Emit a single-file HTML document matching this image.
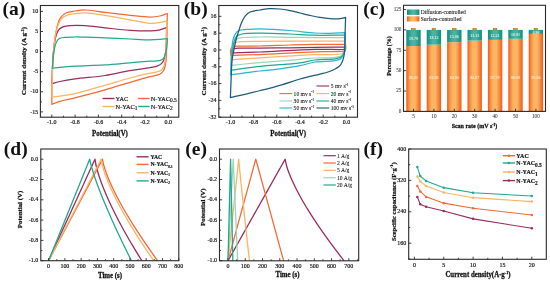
<!DOCTYPE html>
<html><head><meta charset="utf-8"><style>
html,body{margin:0;padding:0;background:#fff;}
svg{display:block;will-change:transform;font-family:"Liberation Serif",serif;}
</style></head><body>
<svg width="550" height="282" viewBox="0 0 550 282">

<defs>
<linearGradient id="gT" x1="0" x2="1" y1="0" y2="0">
 <stop offset="0" stop-color="#128f7f"/><stop offset="0.2" stop-color="#2b9f8f"/><stop offset="0.4" stop-color="#4cb2a1"/><stop offset="0.6" stop-color="#4cb2a1"/><stop offset="0.8" stop-color="#2b9f8f"/><stop offset="1" stop-color="#128c7c"/>
</linearGradient>
<linearGradient id="gO" x1="0" x2="1" y1="0" y2="0">
 <stop offset="0" stop-color="#f2581c"/><stop offset="0.18" stop-color="#f7923f"/><stop offset="0.36" stop-color="#fbb464"/><stop offset="0.6" stop-color="#fcb765"/><stop offset="0.8" stop-color="#f68a3c"/><stop offset="1" stop-color="#f1591d"/>
</linearGradient>
</defs>
<rect width="550" height="282" fill="#fff"/>
<text x="0" y="0" transform="translate(2.60,15.10) scale(1.0,1)" font-size="19.50" text-anchor="start" font-weight="bold" fill="#111" >(a)</text>
<path d="M52.00,83.60 C52.20,77.40 52.31,70.86 52.60,65.00 C52.86,59.73 53.12,54.55 53.60,50.00 C54.00,46.18 54.44,42.56 55.10,39.50 C55.63,37.05 56.17,34.86 57.00,33.00 C57.69,31.45 58.45,30.05 59.50,29.00 C60.48,28.02 61.57,27.35 63.00,26.80 C64.88,26.08 67.22,25.84 70.00,25.60 C74.05,25.26 79.65,25.31 85.00,25.60 C91.20,25.94 97.96,27.06 105.00,27.80 C112.87,28.63 122.12,29.79 130.00,30.30 C137.03,30.76 144.48,31.12 150.00,30.90 C153.91,30.74 157.05,30.43 160.00,29.80 C162.43,29.28 164.33,28.40 166.50,27.70 C166.47,31.80 166.55,35.93 166.40,40.00 C166.25,44.03 166.06,48.55 165.60,52.00 C165.25,54.66 164.95,56.99 164.20,59.00 C163.57,60.69 162.86,62.21 161.70,63.40 C160.49,64.63 159.01,65.44 157.00,66.20 C153.99,67.33 149.23,67.70 145.00,68.40 C140.29,69.18 135.62,69.64 130.00,70.60 C122.71,71.85 113.74,74.15 105.00,75.50 C95.48,76.97 83.27,77.72 75.00,78.90 C69.13,79.74 64.20,80.59 60.00,81.50 C56.90,82.17 54.67,82.90 52.00,83.60 Z" fill="none" stroke="#9a2c5e" stroke-width="1.25" stroke-linejoin="round"/>
<path d="M51.80,104.30 C51.90,96.20 51.92,87.70 52.10,80.00 C52.27,73.01 52.42,65.95 52.80,60.00 C53.11,55.20 53.54,51.24 54.00,47.00 C54.44,42.92 54.86,38.85 55.50,35.00 C56.11,31.37 56.73,27.58 57.70,24.50 C58.50,21.94 59.17,19.64 60.60,17.70 C62.05,15.73 64.11,13.92 66.40,12.80 C68.86,11.60 72.01,11.46 75.00,11.00 C78.20,10.51 81.10,9.96 85.00,10.00 C90.53,10.05 97.96,11.57 105.00,12.40 C112.87,13.33 122.13,14.49 130.00,15.30 C137.03,16.02 144.48,17.15 150.00,17.10 C153.91,17.06 156.96,16.68 160.00,16.00 C162.66,15.41 164.87,14.33 167.30,13.50 C167.20,19.00 167.13,23.93 167.00,30.00 C166.84,37.47 166.80,48.55 166.40,55.00 C166.15,59.09 165.99,62.19 165.40,65.00 C164.95,67.13 164.53,68.96 163.60,70.50 C162.75,71.91 161.81,73.07 160.20,74.00 C157.83,75.37 153.38,75.70 150.00,76.60 C146.64,77.50 143.33,78.45 140.00,79.40 C136.66,80.35 134.08,81.09 130.00,82.30 C123.54,84.22 113.74,87.42 105.00,89.90 C95.48,92.60 83.29,95.71 75.00,97.80 C69.15,99.27 64.22,100.15 60.00,101.40 C56.83,102.34 54.53,103.33 51.80,104.30 Z" fill="none" stroke="#f26a35" stroke-width="1.25" stroke-linejoin="round"/>
<path d="M52.00,97.20 C52.13,89.80 52.17,82.21 52.40,75.00 C52.62,68.16 52.89,61.18 53.30,55.00 C53.65,49.64 54.03,44.35 54.60,40.00 C55.05,36.61 55.50,33.79 56.20,31.00 C56.83,28.50 57.45,26.20 58.50,24.00 C59.55,21.80 60.83,19.36 62.50,17.80 C64.04,16.37 65.99,15.48 68.00,14.80 C70.14,14.07 72.45,14.01 75.00,13.70 C78.03,13.33 81.10,12.73 85.00,12.80 C90.53,12.90 97.98,14.22 105.00,15.30 C112.89,16.52 122.13,18.51 130.00,19.90 C137.03,21.14 144.46,23.05 150.00,23.30 C153.89,23.47 156.98,22.96 160.00,22.50 C162.56,22.11 164.67,21.43 167.00,20.90 C166.77,27.27 166.58,33.82 166.30,40.00 C166.04,45.83 165.84,52.40 165.40,57.00 C165.10,60.17 165.00,62.76 164.30,65.00 C163.74,66.77 163.10,68.39 162.00,69.50 C160.96,70.55 159.77,70.97 158.00,71.60 C154.96,72.68 149.48,73.19 145.00,74.20 C140.17,75.30 135.62,76.47 130.00,78.00 C122.71,79.99 113.34,82.91 105.00,85.30 C96.67,87.68 87.30,90.53 80.00,92.30 C74.39,93.66 69.83,94.57 65.00,95.40 C60.52,96.17 56.33,96.60 52.00,97.20 Z" fill="none" stroke="#f9b465" stroke-width="1.25" stroke-linejoin="round"/>
<path d="M52.40,68.10 C52.60,65.40 52.69,62.96 53.00,60.00 C53.37,56.39 53.87,51.29 54.60,48.00 C55.13,45.63 55.64,43.63 56.50,42.00 C57.19,40.69 57.84,39.56 59.00,38.80 C60.37,37.90 62.35,37.71 64.50,37.40 C67.42,36.98 71.54,37.03 75.00,37.00 C78.37,36.97 81.10,37.10 85.00,37.20 C90.52,37.34 97.96,37.53 105.00,37.80 C112.87,38.11 122.13,38.65 130.00,39.00 C137.04,39.31 144.48,39.80 150.00,39.80 C153.91,39.80 156.91,39.61 160.00,39.40 C162.68,39.22 165.00,38.93 167.50,38.70 C167.20,41.80 167.04,45.19 166.60,48.00 C166.23,50.37 165.83,52.61 165.20,54.50 C164.68,56.06 164.28,57.58 163.30,58.60 C162.34,59.60 161.04,60.15 159.40,60.60 C157.00,61.26 153.72,60.93 150.00,61.20 C144.58,61.59 137.04,62.22 130.00,62.80 C122.13,63.45 113.72,64.35 105.00,64.90 C95.46,65.51 83.28,65.72 75.00,66.20 C69.14,66.54 64.16,66.93 60.00,67.30 C57.04,67.56 54.93,67.83 52.40,68.10 Z" fill="none" stroke="#20a98f" stroke-width="1.25" stroke-linejoin="round"/>
<rect x="40.40" y="5.50" width="138.40" height="111.70" fill="none" stroke="#2a2a2a" stroke-width="1.1"/>
<line x1="51.80" y1="117.20" x2="51.80" y2="114.60" stroke="#2a2a2a" stroke-width="0.9"/><text x="0" y="0" transform="translate(51.80,124.30) scale(0.93,1)" font-size="6.45" text-anchor="middle" font-weight="normal" fill="#111" stroke="#111" stroke-width="0.18" >-1.0</text><line x1="75.10" y1="117.20" x2="75.10" y2="114.60" stroke="#2a2a2a" stroke-width="0.9"/><text x="0" y="0" transform="translate(75.10,124.30) scale(0.93,1)" font-size="6.45" text-anchor="middle" font-weight="normal" fill="#111" stroke="#111" stroke-width="0.18" >-0.8</text><line x1="98.40" y1="117.20" x2="98.40" y2="114.60" stroke="#2a2a2a" stroke-width="0.9"/><text x="0" y="0" transform="translate(98.40,124.30) scale(0.93,1)" font-size="6.45" text-anchor="middle" font-weight="normal" fill="#111" stroke="#111" stroke-width="0.18" >-0.6</text><line x1="121.70" y1="117.20" x2="121.70" y2="114.60" stroke="#2a2a2a" stroke-width="0.9"/><text x="0" y="0" transform="translate(121.70,124.30) scale(0.93,1)" font-size="6.45" text-anchor="middle" font-weight="normal" fill="#111" stroke="#111" stroke-width="0.18" >-0.4</text><line x1="145.00" y1="117.20" x2="145.00" y2="114.60" stroke="#2a2a2a" stroke-width="0.9"/><text x="0" y="0" transform="translate(145.00,124.30) scale(0.93,1)" font-size="6.45" text-anchor="middle" font-weight="normal" fill="#111" stroke="#111" stroke-width="0.18" >-0.2</text><line x1="168.30" y1="117.20" x2="168.30" y2="114.60" stroke="#2a2a2a" stroke-width="0.9"/><text x="0" y="0" transform="translate(168.30,124.30) scale(0.93,1)" font-size="6.45" text-anchor="middle" font-weight="normal" fill="#111" stroke="#111" stroke-width="0.18" >0.0</text><line x1="63.45" y1="117.20" x2="63.45" y2="115.70" stroke="#2a2a2a" stroke-width="0.9"/><line x1="86.75" y1="117.20" x2="86.75" y2="115.70" stroke="#2a2a2a" stroke-width="0.9"/><line x1="110.05" y1="117.20" x2="110.05" y2="115.70" stroke="#2a2a2a" stroke-width="0.9"/><line x1="133.35" y1="117.20" x2="133.35" y2="115.70" stroke="#2a2a2a" stroke-width="0.9"/><line x1="156.65" y1="117.20" x2="156.65" y2="115.70" stroke="#2a2a2a" stroke-width="0.9"/>
<line x1="40.40" y1="11.40" x2="43.00" y2="11.40" stroke="#2a2a2a" stroke-width="0.9"/><text x="0" y="0" transform="translate(38.30,13.02) scale(0.93,1)" font-size="6.45" text-anchor="end" font-weight="normal" fill="#111" stroke="#111" stroke-width="0.18" >10</text><line x1="40.40" y1="31.50" x2="43.00" y2="31.50" stroke="#2a2a2a" stroke-width="0.9"/><text x="0" y="0" transform="translate(38.30,33.12) scale(0.93,1)" font-size="6.45" text-anchor="end" font-weight="normal" fill="#111" stroke="#111" stroke-width="0.18" >5</text><line x1="40.40" y1="51.60" x2="43.00" y2="51.60" stroke="#2a2a2a" stroke-width="0.9"/><text x="0" y="0" transform="translate(38.30,53.22) scale(0.93,1)" font-size="6.45" text-anchor="end" font-weight="normal" fill="#111" stroke="#111" stroke-width="0.18" >0</text><line x1="40.40" y1="71.70" x2="43.00" y2="71.70" stroke="#2a2a2a" stroke-width="0.9"/><text x="0" y="0" transform="translate(38.30,73.32) scale(0.93,1)" font-size="6.45" text-anchor="end" font-weight="normal" fill="#111" stroke="#111" stroke-width="0.18" >-5</text><line x1="40.40" y1="91.80" x2="43.00" y2="91.80" stroke="#2a2a2a" stroke-width="0.9"/><text x="0" y="0" transform="translate(38.30,93.42) scale(0.93,1)" font-size="6.45" text-anchor="end" font-weight="normal" fill="#111" stroke="#111" stroke-width="0.18" >-10</text><line x1="40.40" y1="111.90" x2="43.00" y2="111.90" stroke="#2a2a2a" stroke-width="0.9"/><text x="0" y="0" transform="translate(38.30,113.52) scale(0.93,1)" font-size="6.45" text-anchor="end" font-weight="normal" fill="#111" stroke="#111" stroke-width="0.18" >-15</text><line x1="40.40" y1="21.45" x2="41.90" y2="21.45" stroke="#2a2a2a" stroke-width="0.9"/><line x1="40.40" y1="41.55" x2="41.90" y2="41.55" stroke="#2a2a2a" stroke-width="0.9"/><line x1="40.40" y1="61.65" x2="41.90" y2="61.65" stroke="#2a2a2a" stroke-width="0.9"/><line x1="40.40" y1="81.75" x2="41.90" y2="81.75" stroke="#2a2a2a" stroke-width="0.9"/><line x1="40.40" y1="101.85" x2="41.90" y2="101.85" stroke="#2a2a2a" stroke-width="0.9"/>
<text x="0" y="0" transform="translate(110.00,135.80) scale(0.93,1)" font-size="7.37" text-anchor="middle" font-weight="bold" fill="#111" stroke="#111" stroke-width="0.26" >Potential(V)</text>
<text x="0" y="0" font-size="7.10" font-weight="bold" text-anchor="middle" fill="#111" stroke="#111" stroke-width="0.24" transform="translate(25.80,61.00) rotate(-90) scale(1,0.88)">Current density (A g<tspan dy="-2.6" font-size="4.6">-1</tspan><tspan dy="2.6">)</tspan></text>
<line x1="102.60" y1="98.50" x2="114.50" y2="98.50" stroke="#9a2c5e" stroke-width="1.4"/>
<text x="0" y="0" transform="translate(115.60,100.70) scale(0.93,1)" font-size="6.77" text-anchor="start" font-weight="normal" fill="#111" stroke="#111" stroke-width="0.18" >YAC</text>
<line x1="138.10" y1="98.50" x2="149.50" y2="98.50" stroke="#f26a35" stroke-width="1.4"/>
<text x="0" y="0" transform="translate(150.80,100.70) scale(0.93,1)" font-size="6.77" text-anchor="start" font-weight="normal" fill="#111" stroke="#111" stroke-width="0.18" >N-YAC<tspan font-size="5.8" dy="1.7">0.5</tspan></text>
<line x1="102.60" y1="106.50" x2="114.50" y2="106.50" stroke="#f9b465" stroke-width="1.4"/>
<text x="0" y="0" transform="translate(115.60,108.70) scale(0.93,1)" font-size="6.77" text-anchor="start" font-weight="normal" fill="#111" stroke="#111" stroke-width="0.18" >N-YAC<tspan font-size="5.8" dy="1.7">1</tspan></text>
<line x1="138.10" y1="106.50" x2="149.50" y2="106.50" stroke="#20a98f" stroke-width="1.4"/>
<text x="0" y="0" transform="translate(150.80,108.70) scale(0.93,1)" font-size="6.77" text-anchor="start" font-weight="normal" fill="#111" stroke="#111" stroke-width="0.18" >N-YAC<tspan font-size="5.8" dy="1.7">2</tspan></text>
<text x="0" y="0" transform="translate(183.80,15.10) scale(1.0,1)" font-size="19.50" text-anchor="start" font-weight="bold" fill="#111" >(b)</text>
<path d="M231.00,53.00 C231.10,52.17 230.96,51.21 231.30,50.50 C231.63,49.81 232.19,49.19 233.00,48.80 C234.17,48.23 235.74,48.34 238.00,48.20 C242.73,47.91 252.10,48.16 260.00,48.10 C269.23,48.03 280.46,47.92 290.00,47.80 C298.71,47.69 306.29,47.53 315.00,47.40 C324.54,47.26 335.00,47.13 345.00,47.00 C345.07,47.67 345.50,48.58 345.20,49.00 C344.88,49.44 344.16,49.37 343.00,49.50 C338.92,49.94 325.89,49.07 315.00,49.30 C299.73,49.62 273.80,51.45 260.00,52.00 C251.68,52.33 245.35,52.40 240.00,52.60 C236.41,52.73 234.00,52.87 231.00,53.00 Z" fill="none" stroke="#9a2c5e" stroke-width="1.25" stroke-linejoin="round"/>
<path d="M230.60,55.60 C230.63,53.73 230.33,51.56 230.70,50.00 C230.99,48.78 231.31,47.55 232.20,46.90 C233.25,46.13 234.80,46.37 237.00,46.20 C241.80,45.83 251.83,46.17 260.00,46.00 C269.34,45.80 280.45,45.27 290.00,45.00 C298.71,44.75 306.25,44.52 315.00,44.40 C324.66,44.27 335.33,44.33 345.50,44.30 C345.60,45.53 345.91,46.86 345.80,48.00 C345.70,49.01 345.66,50.20 345.00,50.80 C344.22,51.50 342.93,51.32 341.00,51.50 C336.13,51.95 325.27,51.48 315.00,51.80 C300.06,52.27 273.80,54.04 260.00,54.60 C251.68,54.94 245.42,55.00 240.00,55.20 C236.28,55.33 233.73,55.47 230.60,55.60 Z" fill="none" stroke="#f26a35" stroke-width="1.25" stroke-linejoin="round"/>
<path d="M231.00,59.80 C231.27,56.53 231.29,52.85 231.80,50.00 C232.21,47.73 232.34,45.34 233.50,44.00 C234.53,42.81 235.87,42.49 238.00,42.00 C242.51,40.97 252.10,41.44 260.00,41.30 C269.23,41.14 280.46,41.23 290.00,41.20 C298.71,41.17 306.29,41.13 315.00,41.10 C324.54,41.07 335.00,41.03 345.00,41.00 C345.10,42.67 345.37,44.30 345.30,46.00 C345.22,47.79 345.33,50.14 344.50,51.50 C343.77,52.70 342.41,53.48 341.00,54.00 C339.34,54.61 337.59,54.38 335.00,54.50 C330.28,54.72 323.31,54.42 315.00,54.70 C301.20,55.17 273.79,57.05 260.00,57.90 C251.68,58.41 245.35,58.85 240.00,59.20 C236.41,59.44 234.00,59.60 231.00,59.80 Z" fill="none" stroke="#f9b465" stroke-width="1.25" stroke-linejoin="round"/>
<path d="M231.20,65.40 C231.47,60.93 231.44,56.00 232.00,52.00 C232.46,48.68 232.79,45.37 234.00,43.00 C234.98,41.09 235.81,39.57 238.00,38.50 C242.19,36.44 252.09,37.23 260.00,37.00 C269.22,36.73 280.46,37.20 290.00,37.30 C298.71,37.40 306.29,37.56 315.00,37.60 C324.54,37.64 335.00,37.53 345.00,37.50 C345.10,40.00 345.39,42.55 345.30,45.00 C345.21,47.38 345.34,50.09 344.50,52.00 C343.77,53.66 342.50,55.11 341.00,56.00 C339.39,56.95 337.60,56.98 335.00,57.30 C330.30,57.89 321.18,57.62 315.00,58.00 C309.64,58.33 306.20,58.78 300.00,59.30 C289.87,60.16 271.04,61.62 260.00,62.60 C252.19,63.29 245.32,63.98 240.00,64.50 C236.47,64.85 234.13,65.10 231.20,65.40 Z" fill="none" stroke="#9fd3bd" stroke-width="1.25" stroke-linejoin="round"/>
<path d="M231.20,70.20 C231.47,65.13 231.50,59.86 232.00,55.00 C232.46,50.49 232.97,45.41 234.00,42.00 C234.72,39.62 235.30,37.54 236.70,36.20 C238.02,34.93 239.65,34.52 242.00,34.00 C246.17,33.07 253.24,33.26 260.00,33.20 C268.73,33.12 280.46,33.64 290.00,34.00 C298.71,34.33 306.27,35.02 315.00,35.20 C324.59,35.40 335.13,35.07 345.20,35.00 C345.27,38.00 345.53,41.09 345.40,44.00 C345.28,46.75 345.36,49.74 344.50,52.00 C343.75,53.97 342.57,55.87 341.00,57.00 C339.41,58.15 337.62,58.33 335.00,58.80 C330.32,59.63 321.17,59.24 315.00,60.00 C309.62,60.66 306.23,61.94 300.00,62.80 C289.90,64.19 271.04,65.24 260.00,66.40 C252.18,67.22 245.31,68.06 240.00,68.80 C236.47,69.29 234.13,69.73 231.20,70.20 Z" fill="none" stroke="#20a98f" stroke-width="1.25" stroke-linejoin="round"/>
<path d="M230.70,74.90 C230.97,68.27 231.07,61.16 231.50,55.00 C231.88,49.64 232.03,43.95 233.00,40.00 C233.67,37.26 234.42,34.95 235.70,33.30 C236.75,31.94 237.87,31.08 239.60,30.40 C242.14,29.41 246.56,29.55 250.00,29.30 C253.36,29.06 255.77,28.87 260.00,28.90 C267.32,28.95 280.46,29.77 290.00,30.50 C298.72,31.17 307.72,32.56 315.00,33.00 C320.63,33.34 324.98,33.35 330.00,33.30 C335.05,33.25 340.13,32.90 345.20,32.70 C345.27,35.80 345.51,38.85 345.40,42.00 C345.29,45.28 345.37,49.10 344.50,52.00 C343.75,54.49 342.68,57.07 341.00,58.50 C339.44,59.83 337.63,60.06 335.00,60.60 C330.33,61.56 321.15,61.03 315.00,62.00 C309.60,62.85 305.38,64.62 300.00,65.70 C293.84,66.94 286.68,67.92 280.00,68.80 C273.34,69.68 266.66,70.20 260.00,71.00 C253.33,71.80 245.40,72.87 240.00,73.60 C236.31,74.10 233.80,74.47 230.70,74.90 Z" fill="none" stroke="#29b4d3" stroke-width="1.25" stroke-linejoin="round"/>
<path d="M230.40,97.60 C230.70,89.73 230.97,80.84 231.30,74.00 C231.55,68.73 231.57,64.43 232.10,60.00 C232.58,55.94 233.45,52.15 234.20,48.40 C234.92,44.83 235.67,41.11 236.50,38.00 C237.19,35.42 237.90,33.43 238.70,31.00 C239.58,28.32 240.42,25.21 241.60,22.60 C242.71,20.13 243.96,17.54 245.50,15.70 C246.82,14.13 248.06,12.92 250.00,12.00 C252.57,10.78 256.66,10.57 260.00,10.00 C263.33,9.44 266.66,8.77 270.00,8.60 C273.33,8.44 276.68,8.67 280.00,9.00 C283.34,9.33 286.68,9.94 290.00,10.60 C293.35,11.27 296.67,12.20 300.00,13.00 C303.33,13.80 306.66,14.67 310.00,15.40 C313.33,16.13 316.66,16.87 320.00,17.40 C323.32,17.93 326.66,18.40 330.00,18.60 C333.33,18.80 337.16,18.90 340.00,18.60 C342.15,18.37 343.73,17.80 345.60,17.40 C345.40,23.27 345.25,28.89 345.00,35.00 C344.73,41.64 345.09,50.40 344.00,55.80 C343.27,59.42 342.36,62.40 340.80,64.60 C339.53,66.39 337.89,67.35 336.00,68.50 C333.75,69.87 330.70,71.06 328.00,72.00 C325.37,72.91 323.27,73.27 320.00,74.10 C314.84,75.41 306.49,77.18 300.00,79.00 C293.73,80.76 288.05,82.94 281.70,84.80 C274.91,86.79 267.02,88.82 260.50,90.50 C254.94,91.93 250.09,93.10 245.00,94.30 C240.07,95.46 235.27,96.50 230.40,97.60 Z" fill="none" stroke="#1d5b7e" stroke-width="1.25" stroke-linejoin="round"/>
<rect x="218.80" y="5.50" width="138.70" height="111.70" fill="none" stroke="#2a2a2a" stroke-width="1.1"/>
<line x1="230.40" y1="117.20" x2="230.40" y2="114.60" stroke="#2a2a2a" stroke-width="0.9"/><text x="0" y="0" transform="translate(230.40,124.30) scale(0.93,1)" font-size="6.45" text-anchor="middle" font-weight="normal" fill="#111" stroke="#111" stroke-width="0.18" >-1.0</text><line x1="253.60" y1="117.20" x2="253.60" y2="114.60" stroke="#2a2a2a" stroke-width="0.9"/><text x="0" y="0" transform="translate(253.60,124.30) scale(0.93,1)" font-size="6.45" text-anchor="middle" font-weight="normal" fill="#111" stroke="#111" stroke-width="0.18" >-0.8</text><line x1="276.80" y1="117.20" x2="276.80" y2="114.60" stroke="#2a2a2a" stroke-width="0.9"/><text x="0" y="0" transform="translate(276.80,124.30) scale(0.93,1)" font-size="6.45" text-anchor="middle" font-weight="normal" fill="#111" stroke="#111" stroke-width="0.18" >-0.6</text><line x1="300.00" y1="117.20" x2="300.00" y2="114.60" stroke="#2a2a2a" stroke-width="0.9"/><text x="0" y="0" transform="translate(300.00,124.30) scale(0.93,1)" font-size="6.45" text-anchor="middle" font-weight="normal" fill="#111" stroke="#111" stroke-width="0.18" >-0.4</text><line x1="323.20" y1="117.20" x2="323.20" y2="114.60" stroke="#2a2a2a" stroke-width="0.9"/><text x="0" y="0" transform="translate(323.20,124.30) scale(0.93,1)" font-size="6.45" text-anchor="middle" font-weight="normal" fill="#111" stroke="#111" stroke-width="0.18" >-0.2</text><line x1="346.40" y1="117.20" x2="346.40" y2="114.60" stroke="#2a2a2a" stroke-width="0.9"/><text x="0" y="0" transform="translate(346.40,124.30) scale(0.93,1)" font-size="6.45" text-anchor="middle" font-weight="normal" fill="#111" stroke="#111" stroke-width="0.18" >0.0</text><line x1="242.00" y1="117.20" x2="242.00" y2="115.70" stroke="#2a2a2a" stroke-width="0.9"/><line x1="265.20" y1="117.20" x2="265.20" y2="115.70" stroke="#2a2a2a" stroke-width="0.9"/><line x1="288.40" y1="117.20" x2="288.40" y2="115.70" stroke="#2a2a2a" stroke-width="0.9"/><line x1="311.60" y1="117.20" x2="311.60" y2="115.70" stroke="#2a2a2a" stroke-width="0.9"/><line x1="334.80" y1="117.20" x2="334.80" y2="115.70" stroke="#2a2a2a" stroke-width="0.9"/>
<line x1="218.80" y1="16.35" x2="221.40" y2="16.35" stroke="#2a2a2a" stroke-width="0.9"/><text x="0" y="0" transform="translate(216.60,17.97) scale(0.93,1)" font-size="6.45" text-anchor="end" font-weight="normal" fill="#111" stroke="#111" stroke-width="0.18" >16</text><line x1="218.80" y1="33.15" x2="221.40" y2="33.15" stroke="#2a2a2a" stroke-width="0.9"/><text x="0" y="0" transform="translate(216.60,34.77) scale(0.93,1)" font-size="6.45" text-anchor="end" font-weight="normal" fill="#111" stroke="#111" stroke-width="0.18" >8</text><line x1="218.80" y1="49.95" x2="221.40" y2="49.95" stroke="#2a2a2a" stroke-width="0.9"/><text x="0" y="0" transform="translate(216.60,51.57) scale(0.93,1)" font-size="6.45" text-anchor="end" font-weight="normal" fill="#111" stroke="#111" stroke-width="0.18" >0</text><line x1="218.80" y1="66.75" x2="221.40" y2="66.75" stroke="#2a2a2a" stroke-width="0.9"/><text x="0" y="0" transform="translate(216.60,68.37) scale(0.93,1)" font-size="6.45" text-anchor="end" font-weight="normal" fill="#111" stroke="#111" stroke-width="0.18" >-8</text><line x1="218.80" y1="83.55" x2="221.40" y2="83.55" stroke="#2a2a2a" stroke-width="0.9"/><text x="0" y="0" transform="translate(216.60,85.17) scale(0.93,1)" font-size="6.45" text-anchor="end" font-weight="normal" fill="#111" stroke="#111" stroke-width="0.18" >-16</text><line x1="218.80" y1="100.35" x2="221.40" y2="100.35" stroke="#2a2a2a" stroke-width="0.9"/><text x="0" y="0" transform="translate(216.60,101.97) scale(0.93,1)" font-size="6.45" text-anchor="end" font-weight="normal" fill="#111" stroke="#111" stroke-width="0.18" >-24</text><line x1="218.80" y1="117.15" x2="221.40" y2="117.15" stroke="#2a2a2a" stroke-width="0.9"/><text x="0" y="0" transform="translate(216.60,118.77) scale(0.93,1)" font-size="6.45" text-anchor="end" font-weight="normal" fill="#111" stroke="#111" stroke-width="0.18" >-32</text><line x1="218.80" y1="24.75" x2="220.30" y2="24.75" stroke="#2a2a2a" stroke-width="0.9"/><line x1="218.80" y1="41.55" x2="220.30" y2="41.55" stroke="#2a2a2a" stroke-width="0.9"/><line x1="218.80" y1="58.35" x2="220.30" y2="58.35" stroke="#2a2a2a" stroke-width="0.9"/><line x1="218.80" y1="75.15" x2="220.30" y2="75.15" stroke="#2a2a2a" stroke-width="0.9"/><line x1="218.80" y1="91.95" x2="220.30" y2="91.95" stroke="#2a2a2a" stroke-width="0.9"/><line x1="218.80" y1="108.75" x2="220.30" y2="108.75" stroke="#2a2a2a" stroke-width="0.9"/>
<text x="0" y="0" transform="translate(288.20,135.80) scale(0.93,1)" font-size="7.37" text-anchor="middle" font-weight="bold" fill="#111" stroke="#111" stroke-width="0.26" >Potential(V)</text>
<text x="0" y="0" font-size="7.10" font-weight="bold" text-anchor="middle" fill="#111" stroke="#111" stroke-width="0.24" transform="translate(206.30,61.20) rotate(-90) scale(1,0.88)">Current density (A g<tspan dy="-2.6" font-size="4.6">-1</tspan><tspan dy="2.6">)</tspan></text>
<line x1="316.50" y1="86.00" x2="329.20" y2="86.00" stroke="#9a2c5e" stroke-width="1.1"/>
<text x="0" y="0" transform="translate(330.70,88.00) scale(0.93,1)" font-size="6.02" text-anchor="start" font-weight="normal" fill="#111" stroke="#111" stroke-width="0.08" >5 mv s<tspan dy="-2.2" font-size="3.6">-1</tspan></text>
<line x1="279.40" y1="93.60" x2="292.10" y2="93.60" stroke="#f26a35" stroke-width="1.1"/>
<text x="0" y="0" transform="translate(293.60,95.60) scale(0.93,1)" font-size="6.02" text-anchor="start" font-weight="normal" fill="#111" stroke="#111" stroke-width="0.08" >10 mv s<tspan dy="-2.2" font-size="3.6">-1</tspan></text>
<line x1="316.50" y1="93.60" x2="329.20" y2="93.60" stroke="#f9b465" stroke-width="1.1"/>
<text x="0" y="0" transform="translate(330.70,95.60) scale(0.93,1)" font-size="6.02" text-anchor="start" font-weight="normal" fill="#111" stroke="#111" stroke-width="0.08" >20 mv s<tspan dy="-2.2" font-size="3.6">-1</tspan></text>
<line x1="279.40" y1="101.00" x2="292.10" y2="101.00" stroke="#9fd3bd" stroke-width="1.1"/>
<text x="0" y="0" transform="translate(293.60,103.00) scale(0.93,1)" font-size="6.02" text-anchor="start" font-weight="normal" fill="#111" stroke="#111" stroke-width="0.08" >30 mv s<tspan dy="-2.2" font-size="3.6">-1</tspan></text>
<line x1="316.50" y1="101.00" x2="329.20" y2="101.00" stroke="#20a98f" stroke-width="1.1"/>
<text x="0" y="0" transform="translate(330.70,103.00) scale(0.93,1)" font-size="6.02" text-anchor="start" font-weight="normal" fill="#111" stroke="#111" stroke-width="0.08" >40 mv s<tspan dy="-2.2" font-size="3.6">-1</tspan></text>
<line x1="279.40" y1="108.00" x2="292.10" y2="108.00" stroke="#29b4d3" stroke-width="1.1"/>
<text x="0" y="0" transform="translate(293.60,110.00) scale(0.93,1)" font-size="6.02" text-anchor="start" font-weight="normal" fill="#111" stroke="#111" stroke-width="0.08" >50 mv s<tspan dy="-2.2" font-size="3.6">-1</tspan></text>
<line x1="316.50" y1="108.00" x2="329.20" y2="108.00" stroke="#1d5b7e" stroke-width="1.1"/>
<text x="0" y="0" transform="translate(330.70,110.00) scale(0.93,1)" font-size="6.02" text-anchor="start" font-weight="normal" fill="#111" stroke="#111" stroke-width="0.08" >100 mv s<tspan dy="-2.2" font-size="3.6">-1</tspan></text>
<text x="0" y="0" transform="translate(363.30,15.10) scale(1.0,1)" font-size="19.50" text-anchor="start" font-weight="bold" fill="#111" >(c)</text>
<rect x="406.30" y="46.03" width="14.4" height="65.37" fill="url(#gO)"/>
<rect x="406.30" y="29.90" width="14.4" height="16.13" fill="url(#gT)"/>
<rect x="411.70" y="28.30" width="3.6" height="1.6" fill="#f3b630" stroke="#6a4c14" stroke-width="0.4"/>
<text x="0" y="0" transform="translate(413.50,39.96) scale(0.93,1)" font-size="4.30" text-anchor="middle" font-weight="bold" fill="#d8efea" >19.79</text>
<text x="0" y="0" transform="translate(413.50,78.60) scale(0.93,1)" font-size="4.30" text-anchor="middle" font-weight="bold" fill="#fde6d0" >80.21</text>
<line x1="413.50" y1="111.40" x2="413.50" y2="108.80" stroke="#2a2a2a" stroke-width="0.9"/>
<text x="0" y="0" transform="translate(413.50,118.20) scale(0.93,1)" font-size="5.59" text-anchor="middle" font-weight="normal" fill="#333" stroke="#333" stroke-width="0.05" >5</text>
<rect x="426.70" y="44.67" width="14.4" height="66.73" fill="url(#gO)"/>
<rect x="426.70" y="29.90" width="14.4" height="14.77" fill="url(#gT)"/>
<rect x="432.10" y="28.30" width="3.6" height="1.6" fill="#f3b630" stroke="#6a4c14" stroke-width="0.4"/>
<text x="0" y="0" transform="translate(433.90,39.28) scale(0.93,1)" font-size="4.30" text-anchor="middle" font-weight="bold" fill="#d8efea" >18.12</text>
<text x="0" y="0" transform="translate(433.90,78.60) scale(0.93,1)" font-size="4.30" text-anchor="middle" font-weight="bold" fill="#fde6d0" >81.88</text>
<line x1="433.90" y1="111.40" x2="433.90" y2="108.80" stroke="#2a2a2a" stroke-width="0.9"/>
<text x="0" y="0" transform="translate(433.90,118.20) scale(0.93,1)" font-size="5.59" text-anchor="middle" font-weight="normal" fill="#333" stroke="#333" stroke-width="0.05" >10</text>
<rect x="447.10" y="42.17" width="14.4" height="69.23" fill="url(#gO)"/>
<rect x="447.10" y="29.90" width="14.4" height="12.27" fill="url(#gT)"/>
<rect x="452.50" y="28.30" width="3.6" height="1.6" fill="#f3b630" stroke="#6a4c14" stroke-width="0.4"/>
<text x="0" y="0" transform="translate(454.30,38.04) scale(0.93,1)" font-size="4.30" text-anchor="middle" font-weight="bold" fill="#d8efea" >15.06</text>
<text x="0" y="0" transform="translate(454.30,78.60) scale(0.93,1)" font-size="4.30" text-anchor="middle" font-weight="bold" fill="#fde6d0" >84.94</text>
<line x1="454.30" y1="111.40" x2="454.30" y2="108.80" stroke="#2a2a2a" stroke-width="0.9"/>
<text x="0" y="0" transform="translate(454.30,118.20) scale(0.93,1)" font-size="5.59" text-anchor="middle" font-weight="normal" fill="#333" stroke="#333" stroke-width="0.05" >20</text>
<rect x="467.50" y="40.60" width="14.4" height="70.80" fill="url(#gO)"/>
<rect x="467.50" y="29.90" width="14.4" height="10.70" fill="url(#gT)"/>
<rect x="472.90" y="28.30" width="3.6" height="1.6" fill="#f3b630" stroke="#6a4c14" stroke-width="0.4"/>
<text x="0" y="0" transform="translate(474.70,37.25) scale(0.93,1)" font-size="4.30" text-anchor="middle" font-weight="bold" fill="#d8efea" >13.13</text>
<text x="0" y="0" transform="translate(474.70,78.60) scale(0.93,1)" font-size="4.30" text-anchor="middle" font-weight="bold" fill="#fde6d0" >86.87</text>
<line x1="474.70" y1="111.40" x2="474.70" y2="108.80" stroke="#2a2a2a" stroke-width="0.9"/>
<text x="0" y="0" transform="translate(474.70,118.20) scale(0.93,1)" font-size="5.59" text-anchor="middle" font-weight="normal" fill="#333" stroke="#333" stroke-width="0.05" >30</text>
<rect x="487.90" y="39.85" width="14.4" height="71.55" fill="url(#gO)"/>
<rect x="487.90" y="29.90" width="14.4" height="9.95" fill="url(#gT)"/>
<rect x="493.30" y="28.30" width="3.6" height="1.6" fill="#f3b630" stroke="#6a4c14" stroke-width="0.4"/>
<text x="0" y="0" transform="translate(495.10,36.88) scale(0.93,1)" font-size="4.30" text-anchor="middle" font-weight="bold" fill="#d8efea" >12.21</text>
<text x="0" y="0" transform="translate(495.10,78.60) scale(0.93,1)" font-size="4.30" text-anchor="middle" font-weight="bold" fill="#fde6d0" >87.79</text>
<line x1="495.10" y1="111.40" x2="495.10" y2="108.80" stroke="#2a2a2a" stroke-width="0.9"/>
<text x="0" y="0" transform="translate(495.10,118.20) scale(0.93,1)" font-size="5.59" text-anchor="middle" font-weight="normal" fill="#333" stroke="#333" stroke-width="0.05" >40</text>
<rect x="508.30" y="38.79" width="14.4" height="72.61" fill="url(#gO)"/>
<rect x="508.30" y="29.90" width="14.4" height="8.89" fill="url(#gT)"/>
<rect x="513.70" y="28.30" width="3.6" height="1.6" fill="#f3b630" stroke="#6a4c14" stroke-width="0.4"/>
<text x="0" y="0" transform="translate(515.50,36.35) scale(0.93,1)" font-size="4.30" text-anchor="middle" font-weight="bold" fill="#d8efea" >10.91</text>
<text x="0" y="0" transform="translate(515.50,78.60) scale(0.93,1)" font-size="4.30" text-anchor="middle" font-weight="bold" fill="#fde6d0" >89.09</text>
<line x1="515.50" y1="111.40" x2="515.50" y2="108.80" stroke="#2a2a2a" stroke-width="0.9"/>
<text x="0" y="0" transform="translate(515.50,118.20) scale(0.93,1)" font-size="5.59" text-anchor="middle" font-weight="normal" fill="#333" stroke="#333" stroke-width="0.05" >50</text>
<rect x="528.70" y="33.94" width="14.4" height="77.46" fill="url(#gO)"/>
<rect x="528.70" y="29.90" width="14.4" height="4.04" fill="url(#gT)"/>
<rect x="534.10" y="28.30" width="3.6" height="1.6" fill="#f3b630" stroke="#6a4c14" stroke-width="0.4"/>
<text x="0" y="0" transform="translate(535.90,33.92) scale(0.93,1)" font-size="4.30" text-anchor="middle" font-weight="bold" fill="#d8efea" >4.96</text>
<text x="0" y="0" transform="translate(535.90,78.60) scale(0.93,1)" font-size="4.30" text-anchor="middle" font-weight="bold" fill="#fde6d0" >95.04</text>
<line x1="535.90" y1="111.40" x2="535.90" y2="108.80" stroke="#2a2a2a" stroke-width="0.9"/>
<text x="0" y="0" transform="translate(535.90,118.20) scale(0.93,1)" font-size="5.59" text-anchor="middle" font-weight="normal" fill="#333" stroke="#333" stroke-width="0.05" >100</text>
<rect x="403.50" y="5.30" width="142.00" height="106.10" fill="none" stroke="#2a2a2a" stroke-width="1.1"/>
<line x1="403.50" y1="111.40" x2="406.10" y2="111.40" stroke="#2a2a2a" stroke-width="0.9"/><text x="0" y="0" transform="translate(401.40,112.80) scale(0.93,1)" font-size="5.59" text-anchor="end" font-weight="normal" fill="#333" stroke="#333" stroke-width="0.05" >0</text><line x1="403.50" y1="91.03" x2="406.10" y2="91.03" stroke="#2a2a2a" stroke-width="0.9"/><text x="0" y="0" transform="translate(401.40,92.43) scale(0.93,1)" font-size="5.59" text-anchor="end" font-weight="normal" fill="#333" stroke="#333" stroke-width="0.05" >25</text><line x1="403.50" y1="70.65" x2="406.10" y2="70.65" stroke="#2a2a2a" stroke-width="0.9"/><text x="0" y="0" transform="translate(401.40,72.05) scale(0.93,1)" font-size="5.59" text-anchor="end" font-weight="normal" fill="#333" stroke="#333" stroke-width="0.05" >50</text><line x1="403.50" y1="50.28" x2="406.10" y2="50.28" stroke="#2a2a2a" stroke-width="0.9"/><text x="0" y="0" transform="translate(401.40,51.68) scale(0.93,1)" font-size="5.59" text-anchor="end" font-weight="normal" fill="#333" stroke="#333" stroke-width="0.05" >75</text><line x1="403.50" y1="29.90" x2="406.10" y2="29.90" stroke="#2a2a2a" stroke-width="0.9"/><text x="0" y="0" transform="translate(401.40,31.30) scale(0.93,1)" font-size="5.59" text-anchor="end" font-weight="normal" fill="#333" stroke="#333" stroke-width="0.05" >100</text><line x1="403.50" y1="9.53" x2="406.10" y2="9.53" stroke="#2a2a2a" stroke-width="0.9"/><text x="0" y="0" transform="translate(401.40,10.93) scale(0.93,1)" font-size="5.59" text-anchor="end" font-weight="normal" fill="#333" stroke="#333" stroke-width="0.05" >125</text>
<text x="0" y="0" transform="translate(474.50,128.20) scale(0.93,1)" font-size="6.45" text-anchor="middle" font-weight="bold" fill="#111" stroke="#111" stroke-width="0.26" >Scan rate (mV s<tspan dy="-2.3" font-size="4.0">-1</tspan><tspan dy="2.3">)</tspan></text>
<text x="0" y="0" font-size="6.00" font-weight="bold" text-anchor="middle" fill="#111" stroke="#111" stroke-width="0.24" transform="translate(390.90,56.00) rotate(-90) scale(1,0.88)">Percentage (%)</text>
<rect x="407" y="9.5" width="12.4" height="5.4" fill="url(#gT)"/>
<rect x="407" y="16.3" width="12.4" height="5.2" fill="url(#gO)"/>
<text x="0" y="0" transform="translate(420.80,14.10) scale(0.93,1)" font-size="5.91" text-anchor="start" font-weight="normal" fill="#111" stroke="#111" stroke-width="0.08" >Diffusion-controlled</text>
<text x="0" y="0" transform="translate(420.80,20.80) scale(0.93,1)" font-size="5.91" text-anchor="start" font-weight="normal" fill="#111" stroke="#111" stroke-width="0.08" >Surface-controlled</text>
<text x="0" y="0" transform="translate(3.80,155.20) scale(1.0,1)" font-size="19.50" text-anchor="start" font-weight="bold" fill="#111" >(d)</text>
<path d="M48.60,260.70 C49.70,258.28 50.81,255.87 51.91,253.45 C53.02,251.03 54.12,248.62 55.22,246.20 C56.33,243.78 57.43,241.37 58.54,238.95 C59.64,236.53 60.74,234.12 61.85,231.70 C62.95,229.28 64.06,226.87 65.16,224.45 C66.26,222.03 67.37,219.62 68.47,217.20 C69.58,214.78 70.68,212.37 71.78,209.95 C72.89,207.53 73.99,205.12 75.10,202.70 C76.20,200.28 77.30,197.87 78.41,195.45 C79.51,193.03 80.62,190.62 81.72,188.20 C82.83,185.78 83.93,183.37 85.03,180.95 C86.14,178.53 87.24,176.12 88.35,173.70 C89.45,171.28 90.55,168.87 91.66,166.45 C92.76,164.03 93.87,161.62 94.97,159.20 C95.40,161.62 95.71,164.05 96.26,166.45 C96.82,168.88 97.55,171.29 98.29,173.70 C99.04,176.13 99.87,178.54 100.74,180.95 C101.61,183.38 102.54,185.79 103.50,188.20 C104.46,190.62 105.48,193.04 106.52,195.45 C107.57,197.87 108.66,200.29 109.77,202.70 C110.89,205.12 112.05,207.54 113.22,209.95 C114.41,212.37 115.62,214.79 116.86,217.20 C118.10,219.62 119.37,222.04 120.66,224.45 C121.96,226.87 123.28,229.29 124.62,231.70 C125.97,234.12 127.34,236.54 128.72,238.95 C130.12,241.37 131.53,243.79 132.97,246.20 C134.40,248.62 135.86,251.04 137.33,253.45 C138.81,255.87 140.33,258.28 141.83,260.70" fill="none" stroke="#9a2c5e" stroke-width="1.3" stroke-linejoin="round"/>
<path d="M48.60,260.70 C49.88,258.28 51.16,255.87 52.45,253.45 C53.73,251.03 55.01,248.62 56.29,246.20 C57.58,243.78 58.86,241.37 60.14,238.95 C61.42,236.53 62.70,234.12 63.99,231.70 C65.27,229.28 66.55,226.87 67.83,224.45 C69.12,222.03 70.40,219.62 71.68,217.20 C72.96,214.78 74.24,212.37 75.53,209.95 C76.81,207.53 78.09,205.12 79.37,202.70 C80.66,200.28 81.94,197.87 83.22,195.45 C84.50,193.03 85.78,190.62 87.07,188.20 C88.35,185.78 89.63,183.37 90.91,180.95 C92.20,178.53 93.48,176.12 94.76,173.70 C96.04,171.28 97.32,168.87 98.61,166.45 C99.89,164.03 101.17,161.62 102.45,159.20 C102.99,161.62 103.39,164.05 104.06,166.45 C104.74,168.89 105.63,171.30 106.52,173.70 C107.42,176.13 108.42,178.54 109.45,180.95 C110.50,183.38 111.60,185.79 112.75,188.20 C113.90,190.63 115.10,193.04 116.33,195.45 C117.58,197.88 118.86,200.29 120.18,202.70 C121.50,205.12 122.86,207.54 124.24,209.95 C125.63,212.37 127.06,214.79 128.51,217.20 C129.97,219.62 131.46,222.04 132.96,224.45 C134.48,226.87 136.03,229.29 137.59,231.70 C139.16,234.12 140.76,236.54 142.38,238.95 C144.00,241.37 145.65,243.79 147.32,246.20 C148.99,248.62 150.68,251.04 152.39,253.45 C154.11,255.87 155.87,258.28 157.61,260.70" fill="none" stroke="#f26a35" stroke-width="1.3" stroke-linejoin="round"/>
<path d="M48.60,260.70 C49.85,258.28 51.10,255.87 52.35,253.45 C53.60,251.03 54.86,248.62 56.11,246.20 C57.36,243.78 58.61,241.37 59.86,238.95 C61.11,236.53 62.36,234.12 63.61,231.70 C64.87,229.28 66.12,226.87 67.37,224.45 C68.62,222.03 69.87,219.62 71.12,217.20 C72.37,214.78 73.62,212.37 74.88,209.95 C76.13,207.53 77.38,205.12 78.63,202.70 C79.88,200.28 81.13,197.87 82.38,195.45 C83.63,193.03 84.89,190.62 86.14,188.20 C87.39,185.78 88.64,183.37 89.89,180.95 C91.14,178.53 92.39,176.12 93.64,173.70 C94.90,171.28 96.15,168.87 97.40,166.45 C98.65,164.03 99.90,161.62 101.15,159.20 C101.65,161.62 102.02,164.05 102.64,166.45 C103.28,168.88 104.11,171.30 104.95,173.70 C105.80,176.13 106.74,178.54 107.72,180.95 C108.70,183.38 109.75,185.79 110.84,188.20 C111.93,190.63 113.07,193.04 114.24,195.45 C115.42,197.87 116.64,200.29 117.89,202.70 C119.15,205.12 120.45,207.54 121.77,209.95 C123.10,212.37 124.46,214.79 125.84,217.20 C127.23,219.62 128.65,222.04 130.10,224.45 C131.55,226.87 133.02,229.29 134.52,231.70 C136.02,234.12 137.55,236.54 139.10,238.95 C140.66,241.37 142.23,243.79 143.83,246.20 C145.43,248.62 147.06,251.04 148.70,253.45 C150.35,255.87 152.04,258.28 153.70,260.70" fill="none" stroke="#f9b465" stroke-width="1.3" stroke-linejoin="round"/>
<path d="M48.60,260.70 C49.58,258.28 50.56,255.87 51.54,253.45 C52.51,251.03 53.49,248.62 54.47,246.20 C55.45,243.78 56.43,241.37 57.41,238.95 C58.39,236.53 59.36,234.12 60.34,231.70 C61.32,229.28 62.30,226.87 63.28,224.45 C64.26,222.03 65.23,219.62 66.21,217.20 C67.19,214.78 68.17,212.37 69.15,209.95 C70.13,207.53 71.11,205.12 72.08,202.70 C73.06,200.28 74.04,197.87 75.02,195.45 C76.00,193.03 76.98,190.62 77.96,188.20 C78.93,185.78 79.91,183.37 80.89,180.95 C81.87,178.53 82.85,176.12 83.83,173.70 C84.81,171.28 85.78,168.87 86.76,166.45 C87.74,164.03 88.72,161.62 89.70,159.20 C90.25,161.62 90.72,164.04 91.37,166.45 C92.01,168.88 92.80,171.29 93.58,173.70 C94.37,176.12 95.21,178.54 96.07,180.95 C96.93,183.37 97.83,185.79 98.75,188.20 C99.67,190.62 100.61,193.04 101.58,195.45 C102.54,197.87 103.53,200.29 104.54,202.70 C105.54,205.12 106.57,207.54 107.61,209.95 C108.65,212.37 109.70,214.79 110.77,217.20 C111.85,219.62 112.93,222.04 114.03,224.45 C115.13,226.87 116.25,229.29 117.37,231.70 C118.50,234.12 119.63,236.54 120.78,238.95 C121.93,241.37 123.09,243.79 124.26,246.20 C125.43,248.62 126.62,251.04 127.81,253.45 C129.00,255.87 130.21,258.28 131.41,260.70" fill="none" stroke="#20a98f" stroke-width="1.3" stroke-linejoin="round"/>
<rect x="40.80" y="149.00" width="138.00" height="111.70" fill="none" stroke="#2a2a2a" stroke-width="1.1"/>
<line x1="48.60" y1="260.70" x2="48.60" y2="258.10" stroke="#2a2a2a" stroke-width="0.9"/><text x="0" y="0" transform="translate(48.60,268.30) scale(0.93,1)" font-size="6.45" text-anchor="middle" font-weight="normal" fill="#111" stroke="#111" stroke-width="0.18" >0</text><line x1="64.87" y1="260.70" x2="64.87" y2="258.10" stroke="#2a2a2a" stroke-width="0.9"/><text x="0" y="0" transform="translate(64.87,268.30) scale(0.93,1)" font-size="6.45" text-anchor="middle" font-weight="normal" fill="#111" stroke="#111" stroke-width="0.18" >100</text><line x1="81.14" y1="260.70" x2="81.14" y2="258.10" stroke="#2a2a2a" stroke-width="0.9"/><text x="0" y="0" transform="translate(81.14,268.30) scale(0.93,1)" font-size="6.45" text-anchor="middle" font-weight="normal" fill="#111" stroke="#111" stroke-width="0.18" >200</text><line x1="97.41" y1="260.70" x2="97.41" y2="258.10" stroke="#2a2a2a" stroke-width="0.9"/><text x="0" y="0" transform="translate(97.41,268.30) scale(0.93,1)" font-size="6.45" text-anchor="middle" font-weight="normal" fill="#111" stroke="#111" stroke-width="0.18" >300</text><line x1="113.68" y1="260.70" x2="113.68" y2="258.10" stroke="#2a2a2a" stroke-width="0.9"/><text x="0" y="0" transform="translate(113.68,268.30) scale(0.93,1)" font-size="6.45" text-anchor="middle" font-weight="normal" fill="#111" stroke="#111" stroke-width="0.18" >400</text><line x1="129.95" y1="260.70" x2="129.95" y2="258.10" stroke="#2a2a2a" stroke-width="0.9"/><text x="0" y="0" transform="translate(129.95,268.30) scale(0.93,1)" font-size="6.45" text-anchor="middle" font-weight="normal" fill="#111" stroke="#111" stroke-width="0.18" >500</text><line x1="146.22" y1="260.70" x2="146.22" y2="258.10" stroke="#2a2a2a" stroke-width="0.9"/><text x="0" y="0" transform="translate(146.22,268.30) scale(0.93,1)" font-size="6.45" text-anchor="middle" font-weight="normal" fill="#111" stroke="#111" stroke-width="0.18" >600</text><line x1="162.49" y1="260.70" x2="162.49" y2="258.10" stroke="#2a2a2a" stroke-width="0.9"/><text x="0" y="0" transform="translate(162.49,268.30) scale(0.93,1)" font-size="6.45" text-anchor="middle" font-weight="normal" fill="#111" stroke="#111" stroke-width="0.18" >700</text><line x1="178.76" y1="260.70" x2="178.76" y2="258.10" stroke="#2a2a2a" stroke-width="0.9"/><text x="0" y="0" transform="translate(178.76,268.30) scale(0.93,1)" font-size="6.45" text-anchor="middle" font-weight="normal" fill="#111" stroke="#111" stroke-width="0.18" >800</text><line x1="56.73" y1="260.70" x2="56.73" y2="259.20" stroke="#2a2a2a" stroke-width="0.9"/><line x1="73.00" y1="260.70" x2="73.00" y2="259.20" stroke="#2a2a2a" stroke-width="0.9"/><line x1="89.28" y1="260.70" x2="89.28" y2="259.20" stroke="#2a2a2a" stroke-width="0.9"/><line x1="105.55" y1="260.70" x2="105.55" y2="259.20" stroke="#2a2a2a" stroke-width="0.9"/><line x1="121.81" y1="260.70" x2="121.81" y2="259.20" stroke="#2a2a2a" stroke-width="0.9"/><line x1="138.09" y1="260.70" x2="138.09" y2="259.20" stroke="#2a2a2a" stroke-width="0.9"/><line x1="154.36" y1="260.70" x2="154.36" y2="259.20" stroke="#2a2a2a" stroke-width="0.9"/><line x1="170.62" y1="260.70" x2="170.62" y2="259.20" stroke="#2a2a2a" stroke-width="0.9"/>
<line x1="40.80" y1="159.20" x2="43.40" y2="159.20" stroke="#2a2a2a" stroke-width="0.9"/><text x="0" y="0" transform="translate(38.30,160.82) scale(0.93,1)" font-size="6.45" text-anchor="end" font-weight="normal" fill="#111" stroke="#111" stroke-width="0.18" >0.0</text><line x1="40.80" y1="179.50" x2="43.40" y2="179.50" stroke="#2a2a2a" stroke-width="0.9"/><text x="0" y="0" transform="translate(38.30,181.12) scale(0.93,1)" font-size="6.45" text-anchor="end" font-weight="normal" fill="#111" stroke="#111" stroke-width="0.18" >-0.2</text><line x1="40.80" y1="199.80" x2="43.40" y2="199.80" stroke="#2a2a2a" stroke-width="0.9"/><text x="0" y="0" transform="translate(38.30,201.42) scale(0.93,1)" font-size="6.45" text-anchor="end" font-weight="normal" fill="#111" stroke="#111" stroke-width="0.18" >-0.4</text><line x1="40.80" y1="220.10" x2="43.40" y2="220.10" stroke="#2a2a2a" stroke-width="0.9"/><text x="0" y="0" transform="translate(38.30,221.72) scale(0.93,1)" font-size="6.45" text-anchor="end" font-weight="normal" fill="#111" stroke="#111" stroke-width="0.18" >-0.6</text><line x1="40.80" y1="240.40" x2="43.40" y2="240.40" stroke="#2a2a2a" stroke-width="0.9"/><text x="0" y="0" transform="translate(38.30,242.02) scale(0.93,1)" font-size="6.45" text-anchor="end" font-weight="normal" fill="#111" stroke="#111" stroke-width="0.18" >-0.8</text><line x1="40.80" y1="260.70" x2="43.40" y2="260.70" stroke="#2a2a2a" stroke-width="0.9"/><text x="0" y="0" transform="translate(38.30,262.32) scale(0.93,1)" font-size="6.45" text-anchor="end" font-weight="normal" fill="#111" stroke="#111" stroke-width="0.18" >-1.0</text><line x1="40.80" y1="169.35" x2="42.30" y2="169.35" stroke="#2a2a2a" stroke-width="0.9"/><line x1="40.80" y1="189.65" x2="42.30" y2="189.65" stroke="#2a2a2a" stroke-width="0.9"/><line x1="40.80" y1="209.95" x2="42.30" y2="209.95" stroke="#2a2a2a" stroke-width="0.9"/><line x1="40.80" y1="230.25" x2="42.30" y2="230.25" stroke="#2a2a2a" stroke-width="0.9"/><line x1="40.80" y1="250.55" x2="42.30" y2="250.55" stroke="#2a2a2a" stroke-width="0.9"/>
<text x="0" y="0" transform="translate(110.00,278.20) scale(0.93,1)" font-size="7.37" text-anchor="middle" font-weight="bold" fill="#111" stroke="#111" stroke-width="0.26" >Time (s)</text>
<text x="0" y="0" font-size="6.85" font-weight="bold" text-anchor="middle" fill="#111" stroke="#111" stroke-width="0.24" transform="translate(21.50,209.50) rotate(-90) scale(1,0.88)">Potential (V)</text>
<line x1="136.50" y1="156.80" x2="148.60" y2="156.80" stroke="#9a2c5e" stroke-width="1.4"/>
<text x="0" y="0" transform="translate(150.40,158.80) scale(0.93,1)" font-size="6.13" text-anchor="start" font-weight="bold" fill="#111" stroke="#111" stroke-width="0.18" >YAC</text>
<line x1="136.50" y1="164.40" x2="148.60" y2="164.40" stroke="#f26a35" stroke-width="1.4"/>
<text x="0" y="0" transform="translate(150.40,166.40) scale(0.93,1)" font-size="6.13" text-anchor="start" font-weight="bold" fill="#111" stroke="#111" stroke-width="0.18" >N-YAC<tspan font-size="3.6" dy="1.3">0.5</tspan></text>
<line x1="136.50" y1="172.80" x2="148.60" y2="172.80" stroke="#f9b465" stroke-width="1.4"/>
<text x="0" y="0" transform="translate(150.40,174.80) scale(0.93,1)" font-size="6.13" text-anchor="start" font-weight="bold" fill="#111" stroke="#111" stroke-width="0.18" >N-YAC<tspan font-size="3.6" dy="1.3">1</tspan></text>
<line x1="136.50" y1="180.90" x2="148.60" y2="180.90" stroke="#20a98f" stroke-width="1.4"/>
<text x="0" y="0" transform="translate(150.40,182.90) scale(0.93,1)" font-size="6.13" text-anchor="start" font-weight="bold" fill="#111" stroke="#111" stroke-width="0.18" >N-YAC<tspan font-size="3.6" dy="1.3">2</tspan></text>
<text x="0" y="0" transform="translate(185.30,155.20) scale(1.0,1)" font-size="19.50" text-anchor="start" font-weight="bold" fill="#111" >(e)</text>
<path d="M228.00,260.70 C229.36,258.28 230.72,255.87 232.08,253.45 C233.44,251.03 234.80,248.62 236.16,246.20 C237.52,243.78 238.88,241.37 240.24,238.95 C241.60,236.53 242.96,234.12 244.32,231.70 C245.68,229.28 247.04,226.87 248.40,224.45 C249.76,222.03 251.12,219.62 252.48,217.20 C253.84,214.78 255.21,212.37 256.57,209.95 C257.93,207.53 259.29,205.12 260.65,202.70 C262.01,200.28 263.37,197.87 264.73,195.45 C266.09,193.03 267.45,190.62 268.81,188.20 C270.17,185.78 271.53,183.37 272.89,180.95 C274.25,178.53 275.61,176.12 276.97,173.70 C278.33,171.28 279.69,168.87 281.05,166.45 C282.41,164.03 283.77,161.62 285.13,159.20 C285.67,161.62 286.07,164.05 286.76,166.45 C287.46,168.89 288.37,171.30 289.30,173.70 C290.24,176.13 291.29,178.55 292.37,180.95 C293.47,183.38 294.64,185.79 295.84,188.20 C297.06,190.63 298.33,193.04 299.64,195.45 C300.96,197.88 302.33,200.29 303.72,202.70 C305.13,205.13 306.58,207.54 308.06,209.95 C309.55,212.38 311.07,214.79 312.63,217.20 C314.19,219.62 315.78,222.04 317.40,224.45 C319.03,226.87 320.69,229.29 322.38,231.70 C324.07,234.12 325.79,236.54 327.53,238.95 C329.28,241.37 331.06,243.79 332.86,246.20 C334.66,248.62 336.49,251.04 338.34,253.45 C340.20,255.87 342.11,258.28 343.99,260.70" fill="none" stroke="#9a2c5e" stroke-width="1.3" stroke-linejoin="round"/>
<path d="M228.00,260.70 C228.66,258.28 229.32,255.87 229.98,253.45 C230.65,251.03 231.31,248.62 231.97,246.20 C232.63,243.78 233.29,241.37 233.95,238.95 C234.62,236.53 235.28,234.12 235.94,231.70 C236.60,229.28 237.26,226.87 237.92,224.45 C238.59,222.03 239.25,219.62 239.91,217.20 C240.57,214.78 241.23,212.37 241.89,209.95 C242.56,207.53 243.22,205.12 243.88,202.70 C244.54,200.28 245.20,197.87 245.86,195.45 C246.53,193.03 247.19,190.62 247.85,188.20 C248.51,185.78 249.17,183.37 249.83,180.95 C250.50,178.53 251.16,176.12 251.82,173.70 C252.48,171.28 253.14,168.87 253.80,166.45 C254.47,164.03 255.13,161.62 255.79,159.20 C256.45,161.62 257.11,164.03 257.77,166.45 C258.44,168.87 259.10,171.28 259.76,173.70 C260.42,176.12 261.08,178.53 261.74,180.95 C262.40,183.37 263.07,185.78 263.73,188.20 C264.39,190.62 265.05,193.03 265.71,195.45 C266.37,197.87 267.04,200.28 267.70,202.70 C268.36,205.12 269.02,207.53 269.68,209.95 C270.34,212.37 271.01,214.78 271.67,217.20 C272.33,219.62 272.99,222.03 273.65,224.45 C274.31,226.87 274.98,229.28 275.64,231.70 C276.30,234.12 276.96,236.53 277.62,238.95 C278.28,241.37 278.95,243.78 279.61,246.20 C280.27,248.62 280.93,251.03 281.59,253.45 C282.25,255.87 282.92,258.28 283.58,260.70" fill="none" stroke="#f26a35" stroke-width="1.3" stroke-linejoin="round"/>
<path d="M228.00,260.70 C228.25,258.28 228.51,255.87 228.76,253.45 C229.02,251.03 229.27,248.62 229.53,246.20 C229.78,243.78 230.04,241.37 230.29,238.95 C230.55,236.53 230.80,234.12 231.06,231.70 C231.31,229.28 231.57,226.87 231.82,224.45 C232.08,222.03 232.33,219.62 232.59,217.20 C232.84,214.78 233.10,212.37 233.35,209.95 C233.61,207.53 233.86,205.12 234.11,202.70 C234.37,200.28 234.62,197.87 234.88,195.45 C235.13,193.03 235.39,190.62 235.64,188.20 C235.90,185.78 236.15,183.37 236.41,180.95 C236.66,178.53 236.92,176.12 237.17,173.70 C237.43,171.28 237.68,168.87 237.94,166.45 C238.19,164.03 238.45,161.62 238.70,159.20 C238.92,161.62 239.14,164.03 239.37,166.45 C239.60,168.87 239.85,171.28 240.09,173.70 C240.33,176.12 240.58,178.53 240.82,180.95 C241.07,183.37 241.32,185.78 241.57,188.20 C241.82,190.62 242.08,193.03 242.33,195.45 C242.59,197.87 242.84,200.28 243.10,202.70 C243.35,205.12 243.61,207.53 243.87,209.95 C244.13,212.37 244.39,214.78 244.65,217.20 C244.91,219.62 245.17,222.03 245.43,224.45 C245.69,226.87 245.95,229.28 246.22,231.70 C246.48,234.12 246.74,236.53 247.01,238.95 C247.27,241.37 247.54,243.78 247.80,246.20 C248.07,248.62 248.33,251.03 248.60,253.45 C248.87,255.87 249.14,258.28 249.40,260.70" fill="none" stroke="#f9b465" stroke-width="1.3" stroke-linejoin="round"/>
<path d="M228.00,260.70 C228.12,258.28 228.25,255.87 228.37,253.45 C228.49,251.03 228.62,248.62 228.74,246.20 C228.86,243.78 228.99,241.37 229.11,238.95 C229.23,236.53 229.36,234.12 229.48,231.70 C229.60,229.28 229.73,226.87 229.85,224.45 C229.97,222.03 230.10,219.62 230.22,217.20 C230.34,214.78 230.47,212.37 230.59,209.95 C230.71,207.53 230.84,205.12 230.96,202.70 C231.08,200.28 231.21,197.87 231.33,195.45 C231.45,193.03 231.58,190.62 231.70,188.20 C231.82,185.78 231.95,183.37 232.07,180.95 C232.19,178.53 232.31,176.12 232.44,173.70 C232.56,171.28 232.68,168.87 232.81,166.45 C232.93,164.03 233.05,161.62 233.18,159.20 C233.28,161.62 233.39,164.03 233.50,166.45 C233.61,168.87 233.71,171.28 233.82,173.70 C233.93,176.12 234.03,178.53 234.14,180.95 C234.25,183.37 234.35,185.78 234.46,188.20 C234.57,190.62 234.67,193.03 234.78,195.45 C234.89,197.87 234.99,200.28 235.10,202.70 C235.21,205.12 235.31,207.53 235.42,209.95 C235.53,212.37 235.64,214.78 235.74,217.20 C235.85,219.62 235.96,222.03 236.06,224.45 C236.17,226.87 236.28,229.28 236.38,231.70 C236.49,234.12 236.60,236.53 236.70,238.95 C236.81,241.37 236.92,243.78 237.02,246.20 C237.13,248.62 237.24,251.03 237.35,253.45 C237.45,255.87 237.56,258.28 237.67,260.70" fill="none" stroke="#9fd3bd" stroke-width="1.3" stroke-linejoin="round"/>
<path d="M228.00,260.70 C228.06,258.28 228.12,255.87 228.18,253.45 C228.25,251.03 228.31,248.62 228.37,246.20 C228.43,243.78 228.49,241.37 228.55,238.95 C228.62,236.53 228.68,234.12 228.74,231.70 C228.80,229.28 228.86,226.87 228.92,224.45 C228.99,222.03 229.05,219.62 229.11,217.20 C229.17,214.78 229.23,212.37 229.29,209.95 C229.36,207.53 229.42,205.12 229.48,202.70 C229.54,200.28 229.60,197.87 229.66,195.45 C229.73,193.03 229.79,190.62 229.85,188.20 C229.91,185.78 229.97,183.37 230.03,180.95 C230.10,178.53 230.16,176.12 230.22,173.70 C230.28,171.28 230.34,168.87 230.40,166.45 C230.47,164.03 230.53,161.62 230.59,159.20 C230.64,161.62 230.70,164.03 230.75,166.45 C230.80,168.87 230.86,171.28 230.91,173.70 C230.96,176.12 231.02,178.53 231.07,180.95 C231.12,183.37 231.18,185.78 231.23,188.20 C231.28,190.62 231.34,193.03 231.39,195.45 C231.44,197.87 231.50,200.28 231.55,202.70 C231.60,205.12 231.66,207.53 231.71,209.95 C231.76,212.37 231.82,214.78 231.87,217.20 C231.92,219.62 231.98,222.03 232.03,224.45 C232.08,226.87 232.14,229.28 232.19,231.70 C232.25,234.12 232.30,236.53 232.35,238.95 C232.41,241.37 232.46,243.78 232.51,246.20 C232.57,248.62 232.62,251.03 232.67,253.45 C232.73,255.87 232.78,258.28 232.83,260.70" fill="none" stroke="#20a98f" stroke-width="1.3" stroke-linejoin="round"/>
<rect x="219.50" y="149.00" width="139.20" height="111.80" fill="none" stroke="#2a2a2a" stroke-width="1.1"/>
<line x1="228.00" y1="260.80" x2="228.00" y2="258.20" stroke="#2a2a2a" stroke-width="0.9"/><text x="0" y="0" transform="translate(228.00,268.30) scale(0.93,1)" font-size="6.45" text-anchor="middle" font-weight="normal" fill="#111" stroke="#111" stroke-width="0.18" >0</text><line x1="245.26" y1="260.80" x2="245.26" y2="258.20" stroke="#2a2a2a" stroke-width="0.9"/><text x="0" y="0" transform="translate(245.26,268.30) scale(0.93,1)" font-size="6.45" text-anchor="middle" font-weight="normal" fill="#111" stroke="#111" stroke-width="0.18" >100</text><line x1="262.52" y1="260.80" x2="262.52" y2="258.20" stroke="#2a2a2a" stroke-width="0.9"/><text x="0" y="0" transform="translate(262.52,268.30) scale(0.93,1)" font-size="6.45" text-anchor="middle" font-weight="normal" fill="#111" stroke="#111" stroke-width="0.18" >200</text><line x1="279.78" y1="260.80" x2="279.78" y2="258.20" stroke="#2a2a2a" stroke-width="0.9"/><text x="0" y="0" transform="translate(279.78,268.30) scale(0.93,1)" font-size="6.45" text-anchor="middle" font-weight="normal" fill="#111" stroke="#111" stroke-width="0.18" >300</text><line x1="297.04" y1="260.80" x2="297.04" y2="258.20" stroke="#2a2a2a" stroke-width="0.9"/><text x="0" y="0" transform="translate(297.04,268.30) scale(0.93,1)" font-size="6.45" text-anchor="middle" font-weight="normal" fill="#111" stroke="#111" stroke-width="0.18" >400</text><line x1="314.30" y1="260.80" x2="314.30" y2="258.20" stroke="#2a2a2a" stroke-width="0.9"/><text x="0" y="0" transform="translate(314.30,268.30) scale(0.93,1)" font-size="6.45" text-anchor="middle" font-weight="normal" fill="#111" stroke="#111" stroke-width="0.18" >500</text><line x1="331.56" y1="260.80" x2="331.56" y2="258.20" stroke="#2a2a2a" stroke-width="0.9"/><text x="0" y="0" transform="translate(331.56,268.30) scale(0.93,1)" font-size="6.45" text-anchor="middle" font-weight="normal" fill="#111" stroke="#111" stroke-width="0.18" >600</text><line x1="348.82" y1="260.80" x2="348.82" y2="258.20" stroke="#2a2a2a" stroke-width="0.9"/><text x="0" y="0" transform="translate(348.82,268.30) scale(0.93,1)" font-size="6.45" text-anchor="middle" font-weight="normal" fill="#111" stroke="#111" stroke-width="0.18" >700</text><line x1="236.63" y1="260.80" x2="236.63" y2="259.30" stroke="#2a2a2a" stroke-width="0.9"/><line x1="253.89" y1="260.80" x2="253.89" y2="259.30" stroke="#2a2a2a" stroke-width="0.9"/><line x1="271.15" y1="260.80" x2="271.15" y2="259.30" stroke="#2a2a2a" stroke-width="0.9"/><line x1="288.41" y1="260.80" x2="288.41" y2="259.30" stroke="#2a2a2a" stroke-width="0.9"/><line x1="305.67" y1="260.80" x2="305.67" y2="259.30" stroke="#2a2a2a" stroke-width="0.9"/><line x1="322.93" y1="260.80" x2="322.93" y2="259.30" stroke="#2a2a2a" stroke-width="0.9"/><line x1="340.19" y1="260.80" x2="340.19" y2="259.30" stroke="#2a2a2a" stroke-width="0.9"/><line x1="357.45" y1="260.80" x2="357.45" y2="259.30" stroke="#2a2a2a" stroke-width="0.9"/>
<line x1="219.50" y1="159.20" x2="222.10" y2="159.20" stroke="#2a2a2a" stroke-width="0.9"/><text x="0" y="0" transform="translate(217.00,160.82) scale(0.93,1)" font-size="6.45" text-anchor="end" font-weight="normal" fill="#111" stroke="#111" stroke-width="0.18" >0.0</text><line x1="219.50" y1="179.50" x2="222.10" y2="179.50" stroke="#2a2a2a" stroke-width="0.9"/><text x="0" y="0" transform="translate(217.00,181.12) scale(0.93,1)" font-size="6.45" text-anchor="end" font-weight="normal" fill="#111" stroke="#111" stroke-width="0.18" >-0.2</text><line x1="219.50" y1="199.80" x2="222.10" y2="199.80" stroke="#2a2a2a" stroke-width="0.9"/><text x="0" y="0" transform="translate(217.00,201.42) scale(0.93,1)" font-size="6.45" text-anchor="end" font-weight="normal" fill="#111" stroke="#111" stroke-width="0.18" >-0.4</text><line x1="219.50" y1="220.10" x2="222.10" y2="220.10" stroke="#2a2a2a" stroke-width="0.9"/><text x="0" y="0" transform="translate(217.00,221.72) scale(0.93,1)" font-size="6.45" text-anchor="end" font-weight="normal" fill="#111" stroke="#111" stroke-width="0.18" >-0.6</text><line x1="219.50" y1="240.40" x2="222.10" y2="240.40" stroke="#2a2a2a" stroke-width="0.9"/><text x="0" y="0" transform="translate(217.00,242.02) scale(0.93,1)" font-size="6.45" text-anchor="end" font-weight="normal" fill="#111" stroke="#111" stroke-width="0.18" >-0.8</text><line x1="219.50" y1="260.70" x2="222.10" y2="260.70" stroke="#2a2a2a" stroke-width="0.9"/><text x="0" y="0" transform="translate(217.00,262.32) scale(0.93,1)" font-size="6.45" text-anchor="end" font-weight="normal" fill="#111" stroke="#111" stroke-width="0.18" >-1.0</text><line x1="219.50" y1="169.35" x2="221.00" y2="169.35" stroke="#2a2a2a" stroke-width="0.9"/><line x1="219.50" y1="189.65" x2="221.00" y2="189.65" stroke="#2a2a2a" stroke-width="0.9"/><line x1="219.50" y1="209.95" x2="221.00" y2="209.95" stroke="#2a2a2a" stroke-width="0.9"/><line x1="219.50" y1="230.25" x2="221.00" y2="230.25" stroke="#2a2a2a" stroke-width="0.9"/><line x1="219.50" y1="250.55" x2="221.00" y2="250.55" stroke="#2a2a2a" stroke-width="0.9"/>
<text x="0" y="0" transform="translate(287.50,277.00) scale(0.93,1)" font-size="7.37" text-anchor="middle" font-weight="bold" fill="#111" stroke="#111" stroke-width="0.26" >Time (s)</text>
<text x="0" y="0" font-size="6.85" font-weight="bold" text-anchor="middle" fill="#111" stroke="#111" stroke-width="0.24" transform="translate(204.60,207.20) rotate(-90) scale(1,0.88)">Potential (V)</text>
<line x1="323.50" y1="155.70" x2="335.80" y2="155.70" stroke="#9a2c5e" stroke-width="1.2"/>
<text x="0" y="0" transform="translate(337.00,157.70) scale(0.93,1)" font-size="6.02" text-anchor="start" font-weight="normal" fill="#111" stroke="#111" stroke-width="0.08" >1 A/g</text>
<line x1="323.50" y1="163.00" x2="335.80" y2="163.00" stroke="#f26a35" stroke-width="1.2"/>
<text x="0" y="0" transform="translate(337.00,165.00) scale(0.93,1)" font-size="6.02" text-anchor="start" font-weight="normal" fill="#111" stroke="#111" stroke-width="0.08" >2 A/g</text>
<line x1="323.50" y1="170.30" x2="335.80" y2="170.30" stroke="#f9b465" stroke-width="1.2"/>
<text x="0" y="0" transform="translate(337.00,172.30) scale(0.93,1)" font-size="6.02" text-anchor="start" font-weight="normal" fill="#111" stroke="#111" stroke-width="0.08" >5 A/g</text>
<line x1="323.50" y1="177.70" x2="335.80" y2="177.70" stroke="#9fd3bd" stroke-width="1.2"/>
<text x="0" y="0" transform="translate(337.00,179.70) scale(0.93,1)" font-size="6.02" text-anchor="start" font-weight="normal" fill="#111" stroke="#111" stroke-width="0.08" >10 A/g</text>
<line x1="323.50" y1="185.00" x2="335.80" y2="185.00" stroke="#20a98f" stroke-width="1.2"/>
<text x="0" y="0" transform="translate(337.00,187.00) scale(0.93,1)" font-size="6.02" text-anchor="start" font-weight="normal" fill="#111" stroke="#111" stroke-width="0.08" >20 A/g</text>
<text x="0" y="0" transform="translate(363.50,155.20) scale(1.0,1)" font-size="19.50" text-anchor="start" font-weight="bold" fill="#111" >(f)</text>
<polyline points="417.33,185.90 420.27,191.39 426.14,196.88 443.75,203.16 473.10,208.27 531.80,214.94" fill="none" stroke="#f26a35" stroke-width="1.1"/>
<circle cx="417.33" cy="185.90" r="1.25" fill="#f26a35"/>
<circle cx="420.27" cy="191.39" r="1.25" fill="#f26a35"/>
<circle cx="426.14" cy="196.88" r="1.25" fill="#f26a35"/>
<circle cx="443.75" cy="203.16" r="1.25" fill="#f26a35"/>
<circle cx="473.10" cy="208.27" r="1.25" fill="#f26a35"/>
<circle cx="531.80" cy="214.94" r="1.25" fill="#f26a35"/>
<polyline points="417.33,167.06 420.27,176.08 426.14,180.99 443.75,187.66 473.10,192.80 531.80,195.98" fill="none" stroke="#20a98f" stroke-width="1.1"/>
<circle cx="417.33" cy="167.06" r="1.25" fill="#20a98f"/>
<circle cx="420.27" cy="176.08" r="1.25" fill="#20a98f"/>
<circle cx="426.14" cy="180.99" r="1.25" fill="#20a98f"/>
<circle cx="443.75" cy="187.66" r="1.25" fill="#20a98f"/>
<circle cx="473.10" cy="192.80" r="1.25" fill="#20a98f"/>
<circle cx="531.80" cy="195.98" r="1.25" fill="#20a98f"/>
<polyline points="417.33,176.47 420.27,181.58 426.14,185.90 443.75,192.57 473.10,197.67 531.80,201.59" fill="none" stroke="#f9b465" stroke-width="1.1"/>
<circle cx="417.33" cy="176.47" r="1.25" fill="#f9b465"/>
<circle cx="420.27" cy="181.58" r="1.25" fill="#f9b465"/>
<circle cx="426.14" cy="185.90" r="1.25" fill="#f9b465"/>
<circle cx="443.75" cy="192.57" r="1.25" fill="#f9b465"/>
<circle cx="473.10" cy="197.67" r="1.25" fill="#f9b465"/>
<circle cx="531.80" cy="201.59" r="1.25" fill="#f9b465"/>
<polyline points="417.33,196.88 420.27,204.34 426.14,206.70 443.75,211.01 473.10,218.87 531.80,228.28" fill="none" stroke="#9a2c5e" stroke-width="1.1"/>
<circle cx="417.33" cy="196.88" r="1.25" fill="#9a2c5e"/>
<circle cx="420.27" cy="204.34" r="1.25" fill="#9a2c5e"/>
<circle cx="426.14" cy="206.70" r="1.25" fill="#9a2c5e"/>
<circle cx="443.75" cy="211.01" r="1.25" fill="#9a2c5e"/>
<circle cx="473.10" cy="218.87" r="1.25" fill="#9a2c5e"/>
<circle cx="531.80" cy="228.28" r="1.25" fill="#9a2c5e"/>
<rect x="408.70" y="149.00" width="137.60" height="110.30" fill="none" stroke="#2a2a2a" stroke-width="1.1"/>
<line x1="414.40" y1="259.30" x2="414.40" y2="256.70" stroke="#2a2a2a" stroke-width="0.9"/><text x="0" y="0" transform="translate(414.40,267.30) scale(0.93,1)" font-size="6.45" text-anchor="middle" font-weight="normal" fill="#111" stroke="#111" stroke-width="0.18" >0</text><line x1="443.75" y1="259.30" x2="443.75" y2="256.70" stroke="#2a2a2a" stroke-width="0.9"/><text x="0" y="0" transform="translate(443.75,267.30) scale(0.93,1)" font-size="6.45" text-anchor="middle" font-weight="normal" fill="#111" stroke="#111" stroke-width="0.18" >5</text><line x1="473.10" y1="259.30" x2="473.10" y2="256.70" stroke="#2a2a2a" stroke-width="0.9"/><text x="0" y="0" transform="translate(473.10,267.30) scale(0.93,1)" font-size="6.45" text-anchor="middle" font-weight="normal" fill="#111" stroke="#111" stroke-width="0.18" >10</text><line x1="502.45" y1="259.30" x2="502.45" y2="256.70" stroke="#2a2a2a" stroke-width="0.9"/><text x="0" y="0" transform="translate(502.45,267.30) scale(0.93,1)" font-size="6.45" text-anchor="middle" font-weight="normal" fill="#111" stroke="#111" stroke-width="0.18" >15</text><line x1="531.80" y1="259.30" x2="531.80" y2="256.70" stroke="#2a2a2a" stroke-width="0.9"/><text x="0" y="0" transform="translate(531.80,267.30) scale(0.93,1)" font-size="6.45" text-anchor="middle" font-weight="normal" fill="#111" stroke="#111" stroke-width="0.18" >20</text><line x1="429.07" y1="259.30" x2="429.07" y2="257.80" stroke="#2a2a2a" stroke-width="0.9"/><line x1="458.42" y1="259.30" x2="458.42" y2="257.80" stroke="#2a2a2a" stroke-width="0.9"/><line x1="487.77" y1="259.30" x2="487.77" y2="257.80" stroke="#2a2a2a" stroke-width="0.9"/><line x1="517.12" y1="259.30" x2="517.12" y2="257.80" stroke="#2a2a2a" stroke-width="0.9"/>
<line x1="408.70" y1="149.00" x2="411.30" y2="149.00" stroke="#2a2a2a" stroke-width="0.9"/><text x="0" y="0" transform="translate(406.30,150.62) scale(0.93,1)" font-size="6.45" text-anchor="end" font-weight="normal" fill="#111" stroke="#111" stroke-width="0.18" >400</text><line x1="408.70" y1="180.40" x2="411.30" y2="180.40" stroke="#2a2a2a" stroke-width="0.9"/><text x="0" y="0" transform="translate(406.30,182.02) scale(0.93,1)" font-size="6.45" text-anchor="end" font-weight="normal" fill="#111" stroke="#111" stroke-width="0.18" >320</text><line x1="408.70" y1="211.80" x2="411.30" y2="211.80" stroke="#2a2a2a" stroke-width="0.9"/><text x="0" y="0" transform="translate(406.30,213.42) scale(0.93,1)" font-size="6.45" text-anchor="end" font-weight="normal" fill="#111" stroke="#111" stroke-width="0.18" >240</text><line x1="408.70" y1="243.20" x2="411.30" y2="243.20" stroke="#2a2a2a" stroke-width="0.9"/><text x="0" y="0" transform="translate(406.30,244.82) scale(0.93,1)" font-size="6.45" text-anchor="end" font-weight="normal" fill="#111" stroke="#111" stroke-width="0.18" >160</text><line x1="408.70" y1="164.70" x2="410.20" y2="164.70" stroke="#2a2a2a" stroke-width="0.9"/><line x1="408.70" y1="196.10" x2="410.20" y2="196.10" stroke="#2a2a2a" stroke-width="0.9"/><line x1="408.70" y1="227.50" x2="410.20" y2="227.50" stroke="#2a2a2a" stroke-width="0.9"/><line x1="408.70" y1="258.90" x2="410.20" y2="258.90" stroke="#2a2a2a" stroke-width="0.9"/>
<text x="0" y="0" transform="translate(478.00,276.60) scale(0.93,1)" font-size="7.37" text-anchor="middle" font-weight="bold" fill="#111" stroke="#111" stroke-width="0.26" >Current density(A·g<tspan dy="-2.6" font-size="4.6">-1</tspan><tspan dy="2.6">)</tspan></text>
<text x="0" y="0" font-size="6.60" font-weight="bold" text-anchor="middle" fill="#111" stroke="#111" stroke-width="0.24" transform="translate(395.60,201.70) rotate(-90) scale(1,0.88)">Scepcific capacitance (F·g<tspan dy="-2.5" font-size="4.4">-1</tspan><tspan dy="2.5">)</tspan></text>
<line x1="502.80" y1="155.70" x2="515.00" y2="155.70" stroke="#f26a35" stroke-width="1.4"/>
<circle cx="508.9" cy="155.7" r="1.25" fill="#f26a35"/>
<text x="0" y="0" transform="translate(516.30,157.70) scale(0.93,1)" font-size="6.45" text-anchor="start" font-weight="bold" fill="#111" stroke="#111" stroke-width="0.18" >YAC</text>
<line x1="502.80" y1="163.00" x2="515.00" y2="163.00" stroke="#20a98f" stroke-width="1.4"/>
<circle cx="508.9" cy="163.0" r="1.25" fill="#20a98f"/>
<text x="0" y="0" transform="translate(516.30,165.00) scale(0.93,1)" font-size="6.45" text-anchor="start" font-weight="bold" fill="#111" stroke="#111" stroke-width="0.18" >N-YAC<tspan font-size="5.8" dy="2.0">0.5</tspan></text>
<line x1="502.80" y1="172.00" x2="515.00" y2="172.00" stroke="#f9b465" stroke-width="1.4"/>
<circle cx="508.9" cy="172.0" r="1.25" fill="#f9b465"/>
<text x="0" y="0" transform="translate(516.30,174.00) scale(0.93,1)" font-size="6.45" text-anchor="start" font-weight="bold" fill="#111" stroke="#111" stroke-width="0.18" >N-YAC<tspan font-size="5.8" dy="2.0">1</tspan></text>
<line x1="502.80" y1="180.60" x2="515.00" y2="180.60" stroke="#9a2c5e" stroke-width="1.4"/>
<circle cx="508.9" cy="180.6" r="1.25" fill="#9a2c5e"/>
<text x="0" y="0" transform="translate(516.30,182.60) scale(0.93,1)" font-size="6.45" text-anchor="start" font-weight="bold" fill="#111" stroke="#111" stroke-width="0.18" >N-YAC<tspan font-size="5.8" dy="2.0">2</tspan></text>
</svg>
</body></html>
